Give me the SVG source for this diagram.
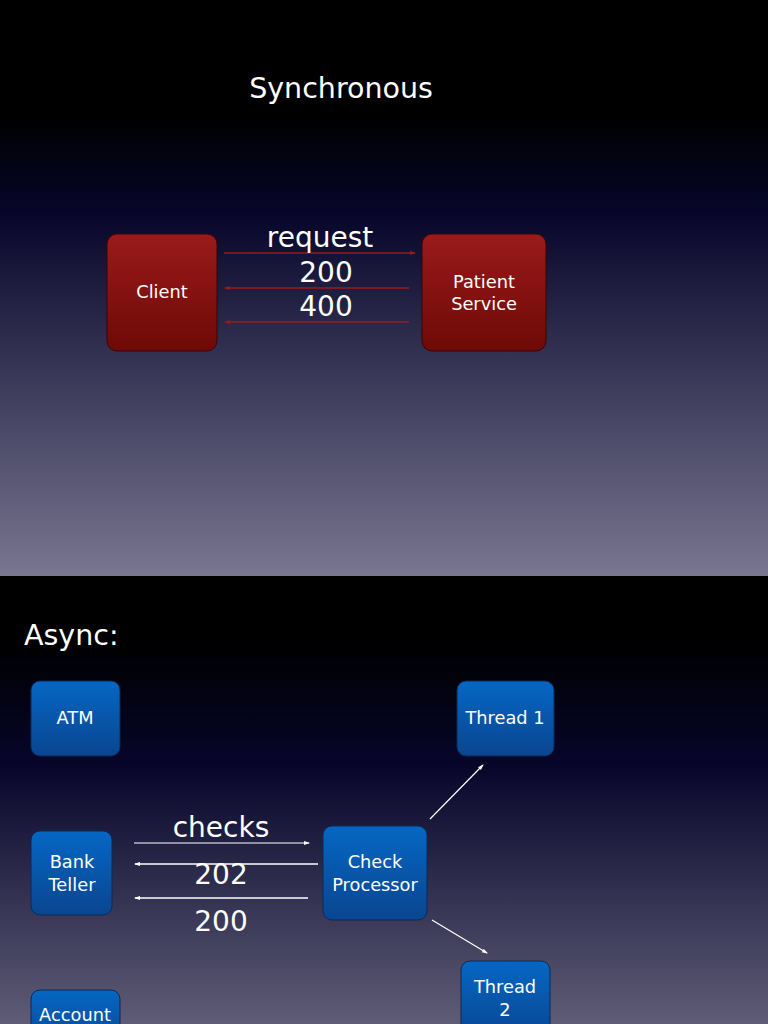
<svg xmlns="http://www.w3.org/2000/svg" width="768" height="1024" viewBox="0 0 768 1024">
<defs>
<linearGradient id="bg1" x1="0" y1="0" x2="0" y2="1">
<stop offset="0" stop-color="#000"/><stop offset="0.2" stop-color="#000"/><stop offset="0.37" stop-color="#07062a"/><stop offset="1" stop-color="#787690"/>
</linearGradient>
<linearGradient id="bg2" x1="0" y1="0" x2="0" y2="1">
<stop offset="0" stop-color="#000"/><stop offset="0.15" stop-color="#000"/><stop offset="0.42" stop-color="#07062a"/><stop offset="1" stop-color="#5e5c76"/>
</linearGradient>
<linearGradient id="red" x1="0" y1="0" x2="0" y2="1"><stop offset="0" stop-color="#9a1a1a"/><stop offset="1" stop-color="#6e0a06"/></linearGradient>
<linearGradient id="blue" x1="0" y1="0" x2="0" y2="1"><stop offset="0" stop-color="#0567c4"/><stop offset="1" stop-color="#0a4590"/></linearGradient>
<marker id="ar" markerWidth="6" markerHeight="6" refX="5" refY="3" orient="auto" markerUnits="userSpaceOnUse"><path d="M0,1 L6,3 L0,5 z" fill="#9a1a1a"/></marker>
<marker id="aw" markerWidth="6" markerHeight="6" refX="5" refY="3" orient="auto" markerUnits="userSpaceOnUse"><path d="M0,1 L6,3 L0,5 z" fill="#fff"/></marker>
</defs>
<style>
text{font-family:"DejaVu Sans","Liberation Sans",sans-serif;fill:#fff;text-anchor:middle}
.n{font-size:17.8px}
.l{font-size:28px}
.r{fill:url(#red);stroke:#3a0505;stroke-width:1}
.b{fill:url(#blue);stroke:#0a2a55;stroke-width:1}
</style>
<rect x="0" y="0" width="768" height="576" fill="url(#bg1)"/>
<rect x="0" y="576" width="768" height="448" fill="url(#bg2)"/>
<text x="341" y="98" style="font-size:28.5px">Synchronous</text>
<text x="24" y="645" style="font-size:28.5px;text-anchor:start">Async:</text>
<g id="client"><rect class="r" x="107" y="234" width="110" height="117" rx="10"/><text class="n" x="162" y="298">Client</text></g>
<g id="patient"><rect class="r" x="422" y="234" width="124" height="117" rx="10"/><text class="n" x="484" y="288">Patient</text><text class="n" x="484" y="310">Service</text></g>
<g id="atm"><rect class="b" x="31" y="681" width="89" height="75" rx="9"/><text class="n" x="75" y="724">ATM</text></g>
<g id="teller"><rect class="b" x="31" y="831" width="81" height="84" rx="9"/><text class="n" x="72" y="868">Bank</text><text class="n" x="72" y="891">Teller</text></g>
<g id="account"><rect class="b" x="31" y="990" width="89" height="60" rx="9"/><text class="n" x="75" y="1021">Account</text></g>
<g id="proc"><rect class="b" x="323" y="826" width="104" height="94" rx="9"/><text class="n" x="375" y="868">Check</text><text class="n" x="375" y="891">Processor</text></g>
<g id="t1"><rect class="b" x="457" y="681" width="97" height="75" rx="9"/><text class="n" x="505" y="724">Thread 1</text></g>
<g id="t2"><rect class="b" x="461" y="961" width="89" height="80" rx="9"/><text class="n" x="505" y="993">Thread</text><text class="n" x="505" y="1016">2</text></g>
<g id="connectors">
<line x1="224" y1="253" x2="415" y2="253" stroke="#9a1a1a" stroke-width="1.5" marker-end="url(#ar)"/>
<line x1="409" y1="288" x2="225" y2="288" stroke="#9a1a1a" stroke-width="1.5" marker-end="url(#ar)"/>
<line x1="409" y1="322" x2="225" y2="322" stroke="#9a1a1a" stroke-width="1.5" marker-end="url(#ar)"/>
<line x1="134" y1="843" x2="309" y2="843" stroke="#fff" stroke-width="1.2" marker-end="url(#aw)"/>
<line x1="318" y1="864" x2="135" y2="864" stroke="#fff" stroke-width="1.5" marker-end="url(#aw)"/>
<line x1="308" y1="898" x2="135" y2="898" stroke="#fff" stroke-width="1.5" marker-end="url(#aw)"/>
<line x1="430" y1="819" x2="483" y2="765" stroke="#fff" stroke-width="1.2" marker-end="url(#aw)"/>
<line x1="432" y1="920" x2="487" y2="953" stroke="#fff" stroke-width="1.2" marker-end="url(#aw)"/>
</g>
<text class="l" x="320" y="247">request</text>
<text class="l" x="326" y="282">200</text>
<text class="l" x="326" y="316">400</text>
<text class="l" x="221" y="837">checks</text>
<text class="l" x="221" y="884">202</text>
<text class="l" x="221" y="931">200</text>
</svg>
